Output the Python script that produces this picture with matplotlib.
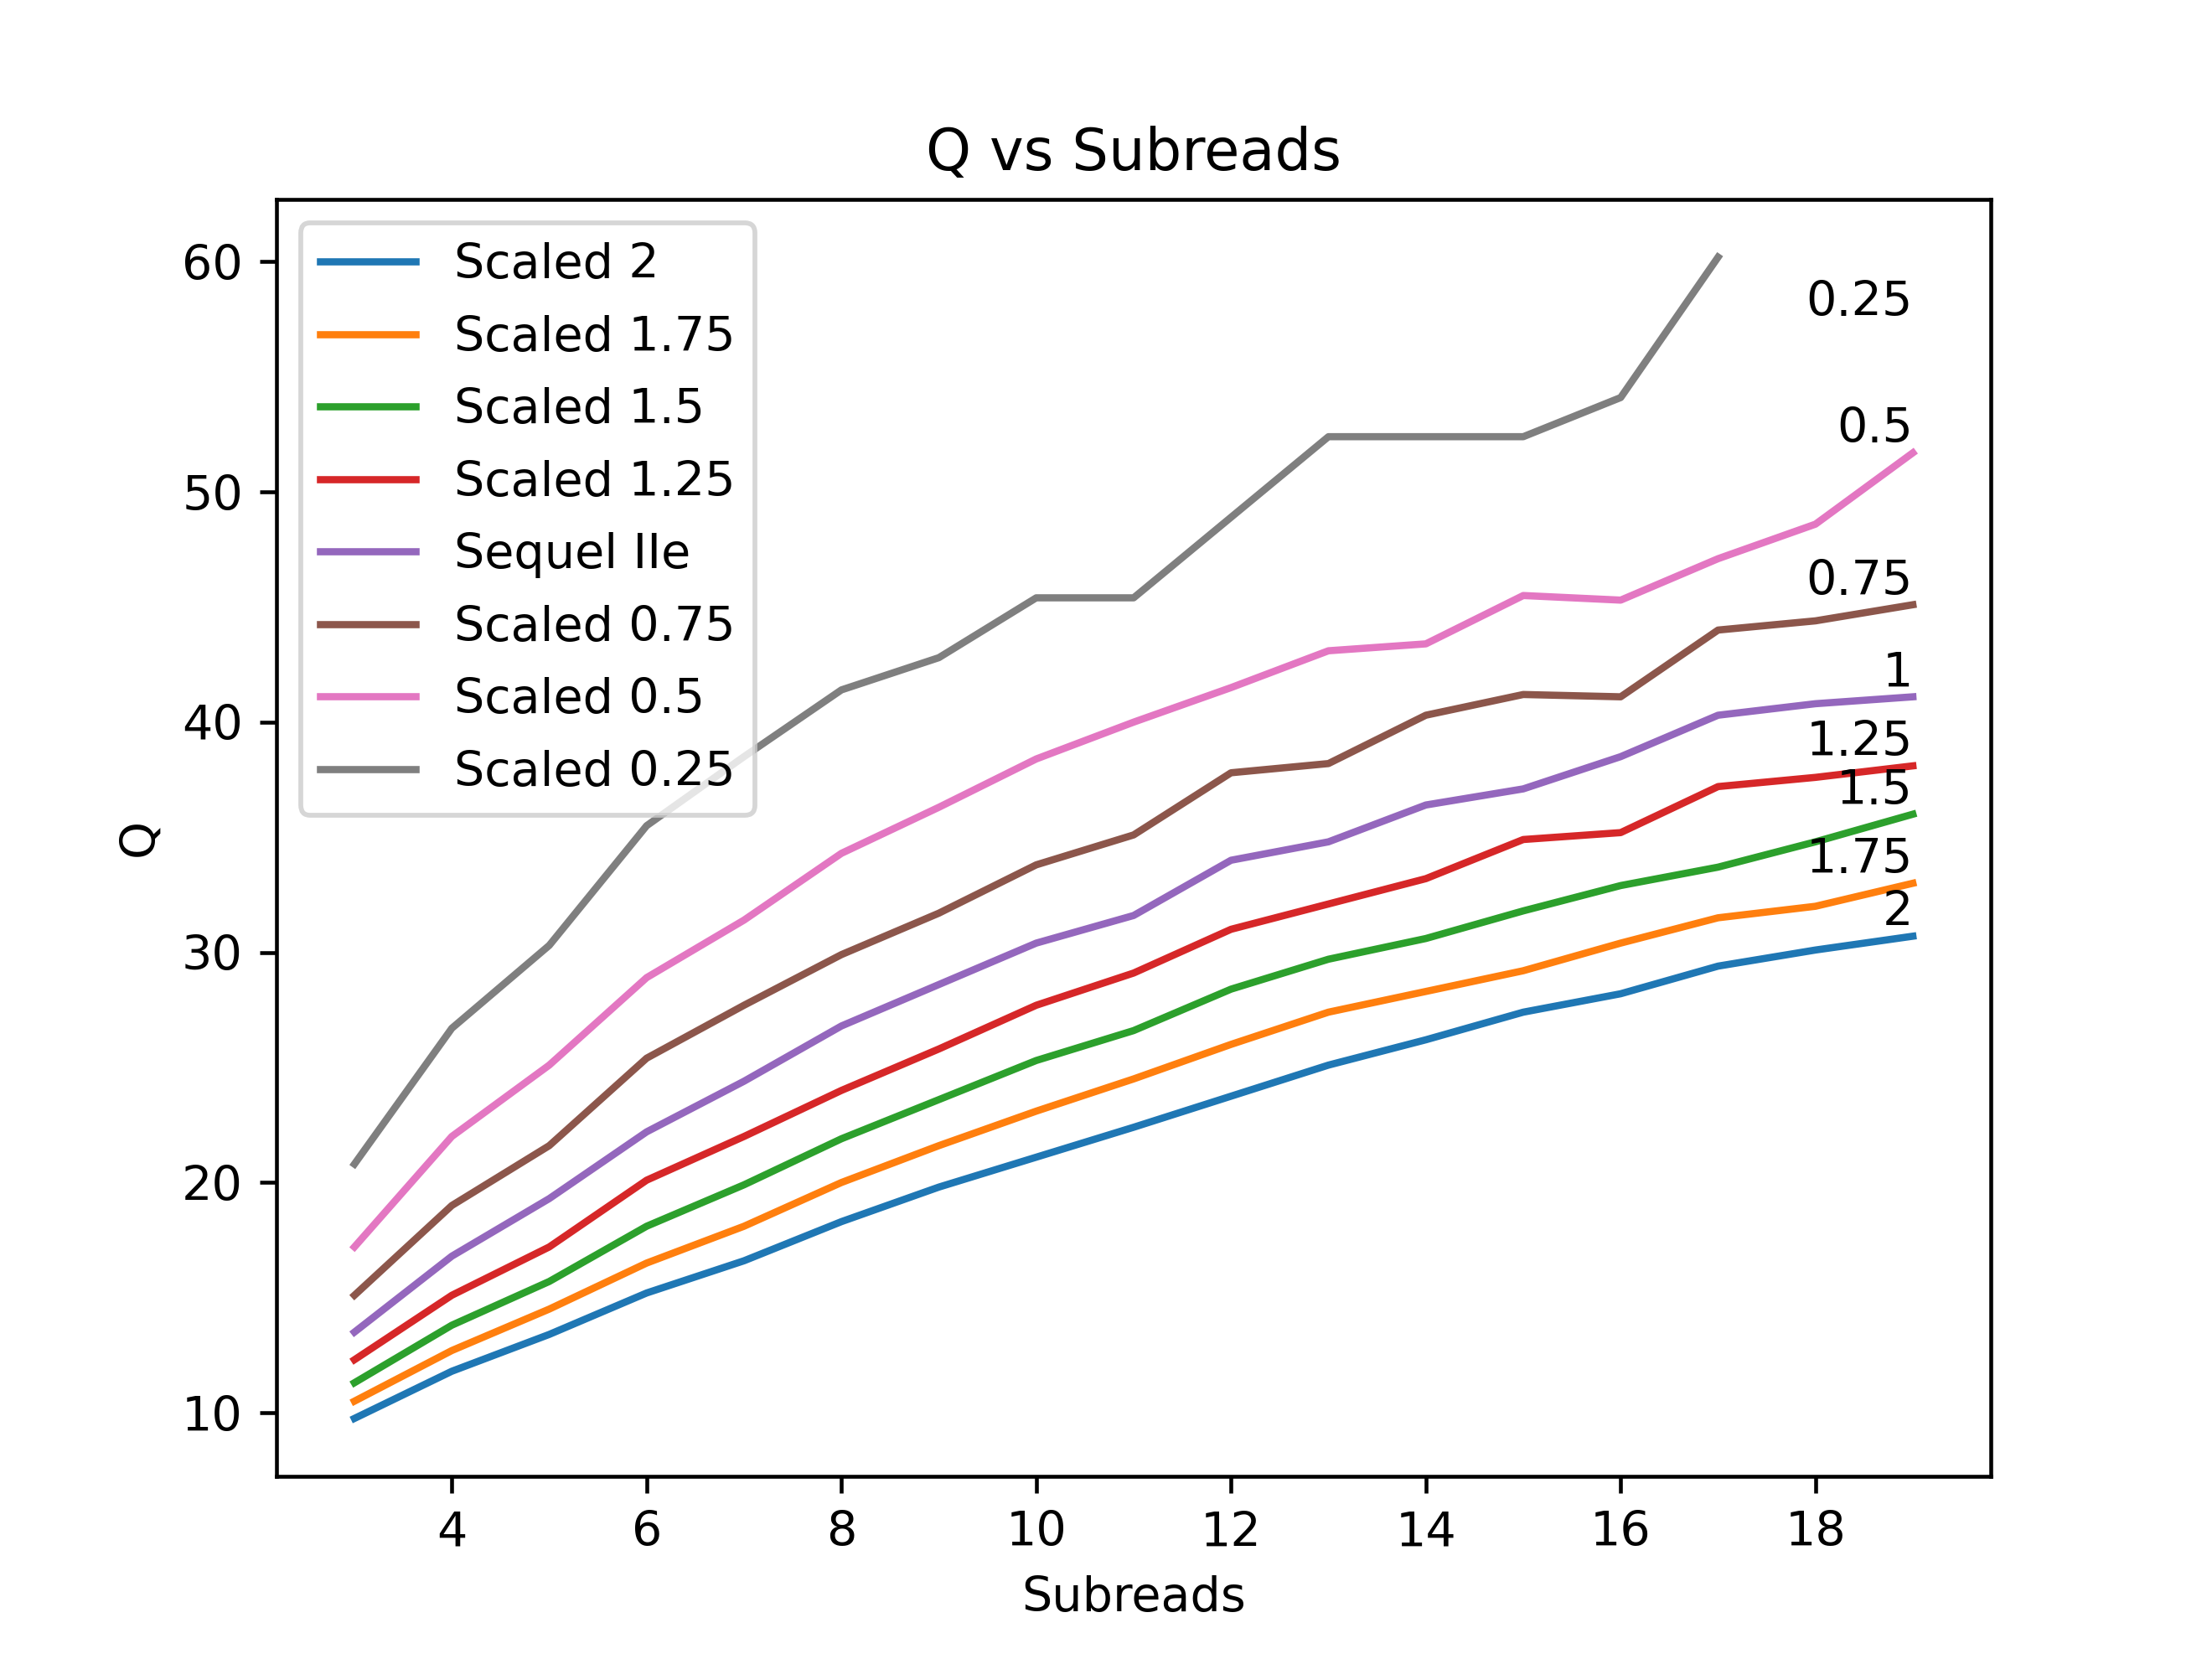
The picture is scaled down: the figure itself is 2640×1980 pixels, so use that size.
import numpy as np
import matplotlib
matplotlib.use('Agg')
import matplotlib.pyplot as plt

# Subread counts
subreads = list(range(3, 20))

# Q values per scaling factor
q_scaled_2 = [9.75, 11.8, 13.4, 15.2, 16.6, 18.3, 19.8, 21.1, 22.4, 23.75, 25.1, 26.2, 27.4, 28.2, 29.4, 30.1, 30.7]
q_scaled_175 = [10.5, 12.7, 14.5, 16.5, 18.1, 20.0, 21.6, 23.1, 24.5, 26.0, 27.4, 28.3, 29.2, 30.4, 31.5, 32.0, 33.0]
q_scaled_15 = [11.3, 13.8, 15.7, 18.1, 19.9, 21.9, 23.6, 25.3, 26.6, 28.4, 29.7, 30.6, 31.8, 32.9, 33.7, 34.8, 36.0]
q_scaled_125 = [12.3, 15.1, 17.2, 20.1, 22.0, 24.0, 25.8, 27.7, 29.1, 31.0, 32.1, 33.2, 34.9, 35.2, 37.2, 37.6, 38.1]
q_sequel = [13.5, 16.8, 19.3, 22.2, 24.4, 26.8, 28.6, 30.4, 31.6, 34.0, 34.8, 36.4, 37.1, 38.5, 40.3, 40.8, 41.1]
q_scaled_075 = [15.1, 19.0, 21.6, 25.4, 27.7, 29.9, 31.7, 33.8, 35.1, 37.8, 38.2, 40.3, 41.2, 41.1, 44.0, 44.4, 45.1]
q_scaled_05 = [17.2, 22.0, 25.1, 28.9, 31.4, 34.3, 36.3, 38.4, 40.0, 41.5, 43.1, 43.4, 45.5, 45.3, 47.1, 48.6, 51.7]
# 0.25 has no finite values past 17 subreads
q_scaled_025 = [20.8, 26.7, 30.3, 35.5, 38.5, 41.4, 42.8, 45.4, 45.4, 48.9, 52.4, 52.4, 52.4, 54.1, 60.2, np.nan, np.nan]

series = [q_scaled_2, q_scaled_175, q_scaled_15, q_scaled_125,
          q_sequel, q_scaled_075, q_scaled_05, q_scaled_025]
legend_labels = ['Scaled 2', 'Scaled 1.75', 'Scaled 1.5', 'Scaled 1.25',
                 'Sequel IIe', 'Scaled 0.75', 'Scaled 0.5', 'Scaled 0.25']
end_labels = ['2', '1.75', '1.5', '1.25', '1', '0.75', '0.5', '0.25']

fig, ax = plt.subplots(figsize=(6.4, 4.8), dpi=412.5)

for values, label in zip(series, legend_labels):
    ax.plot(subreads, values, label=label)

# label each curve at its last point; 0.25 has no last point, so it sits higher up
for values, text in zip(series, end_labels):
    y = values[-1] if not np.isnan(values[-1]) else 57.2
    ax.text(subreads[-1], y, text, ha='right', va='bottom')

ax.set_title('Q vs Subreads')
ax.set_xlabel('Subreads')
ax.set_ylabel('Q')
ax.legend(loc='upper left', labelspacing=0.55)

fig.savefig('out.png')
